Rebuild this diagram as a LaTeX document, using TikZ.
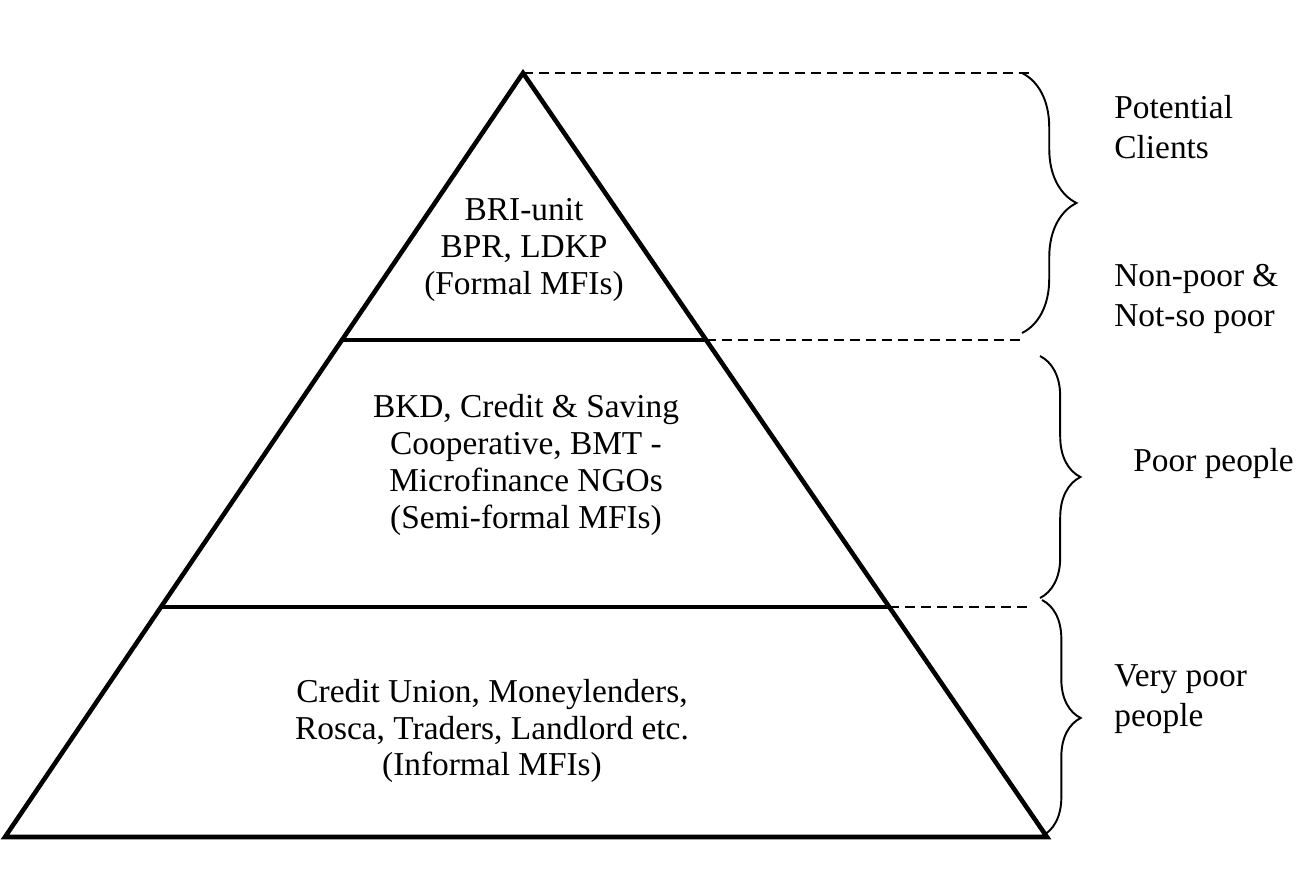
\documentclass[tikz,border=0pt]{standalone}
\usepackage{fontspec}
\setmainfont{Liberation Serif}
\usetikzlibrary{decorations.pathreplacing}

\tikzset{
	tier/.style={line width=2.6pt, line join=miter},
	guide/.style={line width=1.1pt, dash pattern=on 5.7pt off 3.4pt},
	bracket/.style={line width=1.1pt, decorate, decoration={brace, amplitude=#1}},
	label/.style={align=center, font=\fontsize{19}{21}\selectfont, inner sep=0pt},
	side/.style={align=left, anchor=west, font=\fontsize{19}{22.5}\selectfont, inner sep=0pt}
}

\begin{document}
\begin{tikzpicture}[x=0.02cm, y=-0.02cm]
				\useasboundingbox (0,0) rectangle (1299,894);

				% Pyramid
				\coordinate (apex) at (523,73);
				\coordinate (ml) at (343,340);
				\coordinate (mr) at (706,340);
				\coordinate (ll) at (160,607);
				\coordinate (lr) at (889,607);
				\coordinate (bl) at (5,837);
				\coordinate (br) at (1047,837);
				\draw[tier] (apex) -- (bl) -- (br) -- cycle;
				\draw[tier] (ml) -- (mr);
				\draw[tier] (ll) -- (lr);

				% Dashed guides
				\coordinate (ta) at (1030,73);
				\coordinate (tb) at (1022,340);
				\coordinate (tc) at (1028,607);
				\draw[guide] (apex) -- (ta);
				\draw[guide] (mr) -- (tb);
				\draw[guide] (lr) -- (tc);

				% Braces
				\draw[bracket=31pt] (1022,73) -- (1022,333);
				\draw[bracket=23pt] (1040,356) -- (1040,598);
				\draw[bracket=22pt] (1042,600) -- (1042,836);

				% Tier texts
				\node[label] (formal) at (524,250) {BRI-unit\\BPR, LDKP\\(Formal MFIs)};
				\node[label] (semi) at (526,465) {BKD, Credit \& Saving\\Cooperative, BMT -\\Microfinance NGOs\\(Semi-formal MFIs)};
				\node[label] (informal) at (492,731) {Credit Union, Moneylenders,\\Rosca, Traders, Landlord etc.\\(Informal MFIs)};

				% Client texts
				\node[side] (potential) at (1114,127) {Potential\\Clients};
				\node[side] (nonpoor) at (1114,299) {Non-poor \&\\Not-so poor};
				\node[side] (poor) at (1133,463) {Poor people};
				\node[side] (verypoor) at (1114,699) {Very poor\\people};
\end{tikzpicture}
\end{document}
